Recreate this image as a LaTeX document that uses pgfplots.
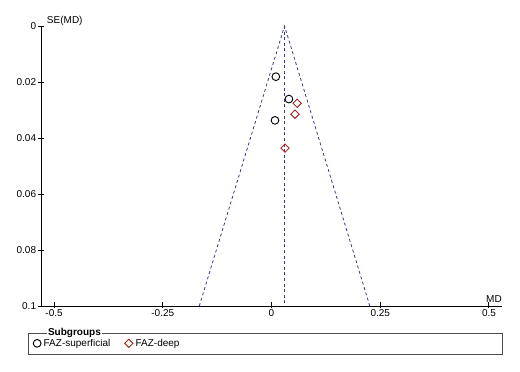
\documentclass[border=0pt]{standalone}
\usepackage{pgfplots}
\pgfplotsset{compat=1.18}
\usepackage{fontspec}
\setmainfont{Liberation Sans}
\definecolor{funnel}{RGB}{55,55,135}
\definecolor{deepred}{RGB}{165,45,40}
\begin{document}
\fontsize{7.5}{9}\selectfont
\begin{tikzpicture}
\begin{axis}[
  scale only axis,
  width=345.75pt, height=210pt,
  xmin=-0.53, xmax=0.53,
  ymin=0, ymax=0.1,
  y dir=reverse,
  axis x line*=bottom, axis y line*=left,
  axis line style={-, line width=0.75pt},
  xtick={-0.5,-0.25,0,0.25,0.5},
  ytick={0,0.02,0.04,0.06,0.08,0.1},
  scaled x ticks=false, scaled y ticks=false,
  /pgf/number format/assume math mode=true,
  /pgf/number format/fixed,
  /pgf/number format/precision=2,
  x tick style={draw=black, line width=0.75pt, yshift=-1.2pt},
  y tick style={draw=black, line width=0.75pt, xshift=-2.2pt},
  tick align=inside,
  major tick length=4.5pt,
  tick label style={font=\fontsize{7.5}{9}\selectfont},
  yticklabel style={xshift=-1pt},
  ylabel={SE(MD)},
  ylabel style={at={(axis description cs:0,1)}, anchor=base west, rotate=-90, inner sep=0pt, xshift=4.3pt, yshift=2pt, font=\fontsize{7.5}{9}\selectfont},
  xlabel={MD},
  xlabel style={at={(axis description cs:1,0)}, anchor=base east, inner sep=0pt, yshift=2.5pt, font=\fontsize{7.5}{9}\selectfont},
  legend columns=2,
  legend style={at={(axis description cs:0,0)}, anchor=west, xshift=-9pt, yshift=-28pt, draw=none, fill=none, font=\fontsize{7.5}{9}\selectfont,
    /tikz/every even column/.append style={column sep=8.75pt}},
  legend image code/.code={\draw[mark repeat=2,mark phase=2,#1] plot coordinates {(0pt,0pt)(3pt,0pt)(10.5pt,0pt)};},
  clip=false,
]
\addplot[funnel, line width=0.6pt, dash pattern=on 2.2pt off 2pt, forget plot] coordinates {(-0.166,0.1) (0.03,0) (0.226,0.1)};
\addplot[funnel, line width=0.6pt, dash pattern=on 2.2pt off 2pt, forget plot] coordinates {(0.03,0) (0.03,0.1)};
\addplot[only marks, mark=o, mark size=2.9pt, mark options={line width=0.7pt, black}] coordinates {
  (0.010,0.0181) (0.040,0.0261) (0.008,0.0337)};
\addlegendentry{FAZ-superficial}
\addplot[only marks, mark=square, mark size=2.2pt, mark options={rotate=45, line width=0.7pt, deepred}] coordinates {
  (0.059,0.0276) (0.054,0.0315) (0.031,0.0436)};
\addlegendentry{FAZ-deep}
\end{axis}
\draw[line width=0.6pt, black!70] (current axis.south west) ++(-9.75pt,-20.25pt) rectangle ++(355.5pt,-15.75pt);
\node[anchor=west, fill=white, inner sep=0.8pt, font=\fontsize{7.5}{9}\selectfont\bfseries] at ([xshift=4.3pt,yshift=-20.25pt]current axis.south west) {Subgroups};
\pgfresetboundingbox
\useasboundingbox (current axis.south west) ++(-30.75pt,-48.75pt) rectangle ++(390pt,278.25pt);
\end{tikzpicture}
\end{document}
